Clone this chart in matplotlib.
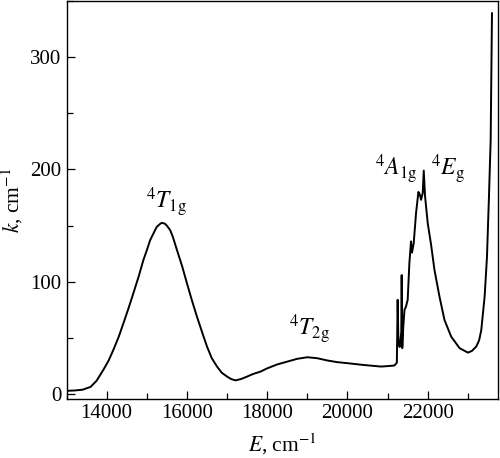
import numpy as np
import matplotlib.pyplot as plt
from matplotlib.ticker import MultipleLocator

plt.rcParams['font.family'] = ['Liberation Serif', 'DejaVu Serif']
plt.rcParams['mathtext.fontset'] = 'stix'

# Спектр поглощения: энергия (см^-1) и коэффициент поглощения k (см^-1)
energy = [13000, 13200, 13400, 13600, 13750, 13917, 14050, 14167, 14300, 14417,
          14550, 14667, 14800, 14917, 15000, 15083, 15200, 15250, 15333, 15375,
          15450, 15500, 15583, 15650, 15750, 15880, 16000, 16120, 16250, 16380,
          16500, 16620, 16750, 16870, 17000, 17100, 17208, 17350, 17500, 17650,
          17833, 18000, 18250, 18500, 18750, 19000, 19250, 19500, 19750, 20000,
          20400, 20833, 21000, 21167, 21230, 21250, 21270, 21300, 21340, 21350,
          21365, 21390, 21420, 21458, 21500, 21542, 21583, 21608, 21650, 21708,
          21767, 21800, 21833, 21875, 21900, 21933, 22000, 22083, 22167, 22292,
          22417, 22583, 22792, 23000, 23100, 23208, 23280, 23333, 23417, 23475,
          23525, 23567, 23600]
k_abs = [3.0, 3.3, 4.0, 6.5, 12.0, 21.6, 30.0, 39.4, 51.0, 63.0,
         77.0, 90.0, 105.0, 119.6, 128.0, 137.0, 145.5, 149.0, 151.6, 152.5,
         151.8, 150.0, 146.0, 140.0, 128.5, 114.0, 98.8, 84.0, 69.0, 55.0,
         42.4, 32.0, 24.6, 19.0, 15.7, 13.5, 12.3, 13.5, 15.7, 18.0,
         20.1, 23.0, 26.5, 29.0, 31.5, 32.9, 32.0, 30.0, 28.5, 27.6,
         26.0, 24.6, 25.0, 25.5, 28.0, 84.0, 45.0, 42.0, 55.0, 106.0,
         41.0, 60.0, 75.0, 78.0, 84.0, 116.6, 136.0, 126.0, 134.4, 161.0,
         180.0, 178.0, 173.0, 179.0, 199.0, 176.0, 152.0, 133.0, 110.6, 86.9,
         66.0, 51.3, 41.0, 37.0, 38.5, 42.4, 48.0, 57.0, 86.9, 122.0,
         176.0, 226.0, 339.0]

# Подписи полос: текст, положение по E, положение по k
band_labels = [r'$^4T_{\mathrm{1g}}$', r'$^4T_{\mathrm{2g}}$', r'$^4A_{\mathrm{1g}}$', r'$^4E_{\mathrm{g}}$']
band_E = [15480, 19060, 21210, 22500]
band_k = [165, 52, 194, 194]

fig = plt.figure(figsize=(5.0, 4.58), dpi=100)
ax = fig.add_axes([0.133, 0.129, 0.863, 0.869])

ax.plot(energy, k_abs, color='black', linewidth=1.4)

for txt, xe, yk in zip(band_labels, band_E, band_k):
    ax.text(xe, yk, txt, ha='center', va='baseline', fontsize=17)

ax.set_xlim(13000, 23750)
ax.set_ylim(-4.2, 350)
ax.xaxis.set_major_locator(MultipleLocator(2000))
ax.xaxis.set_minor_locator(MultipleLocator(1000))
ax.yaxis.set_major_locator(MultipleLocator(100))
ax.yaxis.set_minor_locator(MultipleLocator(50))
ax.tick_params(which='both', direction='in', top=False, right=False, labelsize=15)
ax.tick_params(which='major', length=6, width=0.9)
ax.tick_params(which='minor', length=4, width=0.9)
for s in ax.spines.values():
    s.set_linewidth(1.0)

ax.set_xlabel(r'$E$, cm$^{-1}$', fontsize=15.5, labelpad=6)
ax.set_ylabel(r'$k$, cm$^{-1}$', fontsize=15.5, labelpad=4)

fig.savefig('out.png', dpi=100)
